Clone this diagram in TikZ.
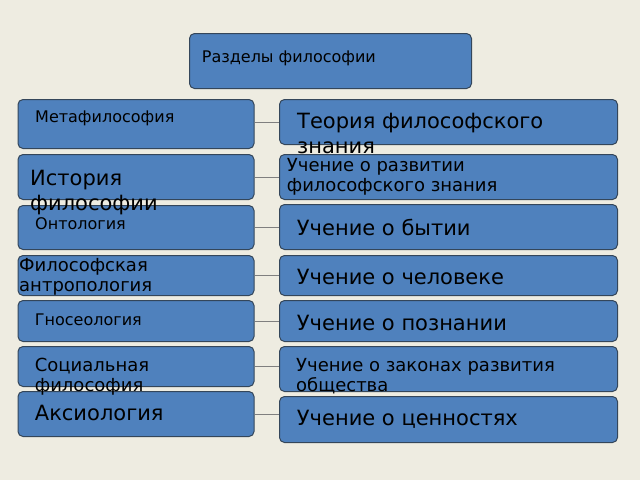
\documentclass[tikz,border=0pt]{standalone}
\usepackage{fontspec}
\setmainfont{DejaVu Sans}

\definecolor{bgtan}{HTML}{EEECE1}
\definecolor{boxblue}{HTML}{4F81BD}
\definecolor{boxline}{HTML}{34465A}
\definecolor{linkgray}{HTML}{7F7F7F}

\tikzset{
  part/.style={draw=boxline,fill=boxblue,rounded corners=5pt,line width=1pt,anchor=north west,inner sep=0pt},
  leftpart/.style={part,minimum width=236pt},
  rightpart/.style={part,minimum width=338pt},
  lbl/.style={anchor=base west,inner sep=0pt,align=left},
  smalllbl/.style={lbl,font=\fontsize{16}{19}\selectfont},
  midlbl/.style={lbl,font=\fontsize{18}{20}\selectfont},
  biglbl/.style={lbl,font=\fontsize{21}{25}\selectfont},
  link/.style={draw=linkgray,line width=1pt}
}

\begin{document}
\begin{tikzpicture}[x=1pt,y=-1pt]
        \fill[bgtan] (0,0) rectangle (640,480);
        % boxes
        \node[part,minimum width=282pt,minimum height=55pt] (root) at (189,33) {};
        \node[leftpart,minimum height=49pt] (meta) at (17.5,99) {};
        \node[leftpart,minimum height=45pt] (hist) at (17.5,154) {};
        \node[leftpart,minimum height=44pt] (onto) at (17.5,205) {};
        \node[leftpart,minimum height=40pt] (anth) at (17.5,255) {};
        \node[leftpart,minimum height=41pt] (gnos) at (17.5,300) {};
        \node[leftpart,minimum height=40pt] (soc) at (17.5,346) {};
        \node[leftpart,minimum height=45pt] (axio) at (17.5,391) {};
        \node[rightpart,minimum height=45pt] (teor) at (279,99) {};
        \node[rightpart,minimum height=45pt] (razv) at (279,154) {};
        \node[rightpart,minimum height=45pt] (byt) at (279,204) {};
        \node[rightpart,minimum height=40pt] (chel) at (279,255) {};
        \node[rightpart,minimum height=41pt] (pozn) at (279,300) {};
        \node[rightpart,minimum height=45pt] (zak) at (279,346) {};
        \node[rightpart,minimum height=46pt] (cen) at (279,396) {};
        % connectors
        \draw[link] (teor.west -| meta.east) -- (teor.west);
        \draw[link] (hist.east) -- (hist.east -| razv.west);
        \draw[link] (onto.east) -- (onto.east -| byt.west);
        \draw[link] (anth.east) -- (anth.east -| chel.west);
        \draw[link] (gnos.east) -- (gnos.east -| pozn.west);
        \draw[link] (soc.east) -- (soc.east -| zak.west);
        \draw[link] (axio.east) -- (axio.east -| cen.west);
        % texts (two-line ones sit on their last baseline)
        \node[smalllbl] (root-t) at (201.7,62.7) {Разделы философии};
        \node[smalllbl] (meta-t) at (35,122.7) {Метафилософия};
        \node[biglbl] (hist-t) at (30,210) {История\\философии};
        \node[smalllbl] (onto-t) at (35,229.7) {Онтология};
        \node[midlbl] (anth-t) at (19,291) {Философская\\антропология};
        \node[smalllbl] (gnos-t) at (34.7,325.7) {Гносеология};
        \node[midlbl] (soc-t) at (34.7,391.7) {Социальная\\философия};
        \node[biglbl] (axio-t) at (34.7,420) {Аксиология};
        \node[biglbl] (teor-t) at (297,153) {Теория философского\\знания};
        \node[midlbl] (razv-t) at (286.7,191.7) {Учение о развитии\\философского знания};
        \node[biglbl] (byt-t) at (296.7,235) {Учение о бытии};
        \node[biglbl] (chel-t) at (296.7,284) {Учение о человеке};
        \node[biglbl] (pozn-t) at (296.7,330) {Учение о познании};
        \node[midlbl] (zak-t) at (296,391.7) {Учение о законах развития\\общества};
        \node[biglbl] (cen-t) at (296.7,425) {Учение о ценностях};
    \end{tikzpicture}
\end{document}
